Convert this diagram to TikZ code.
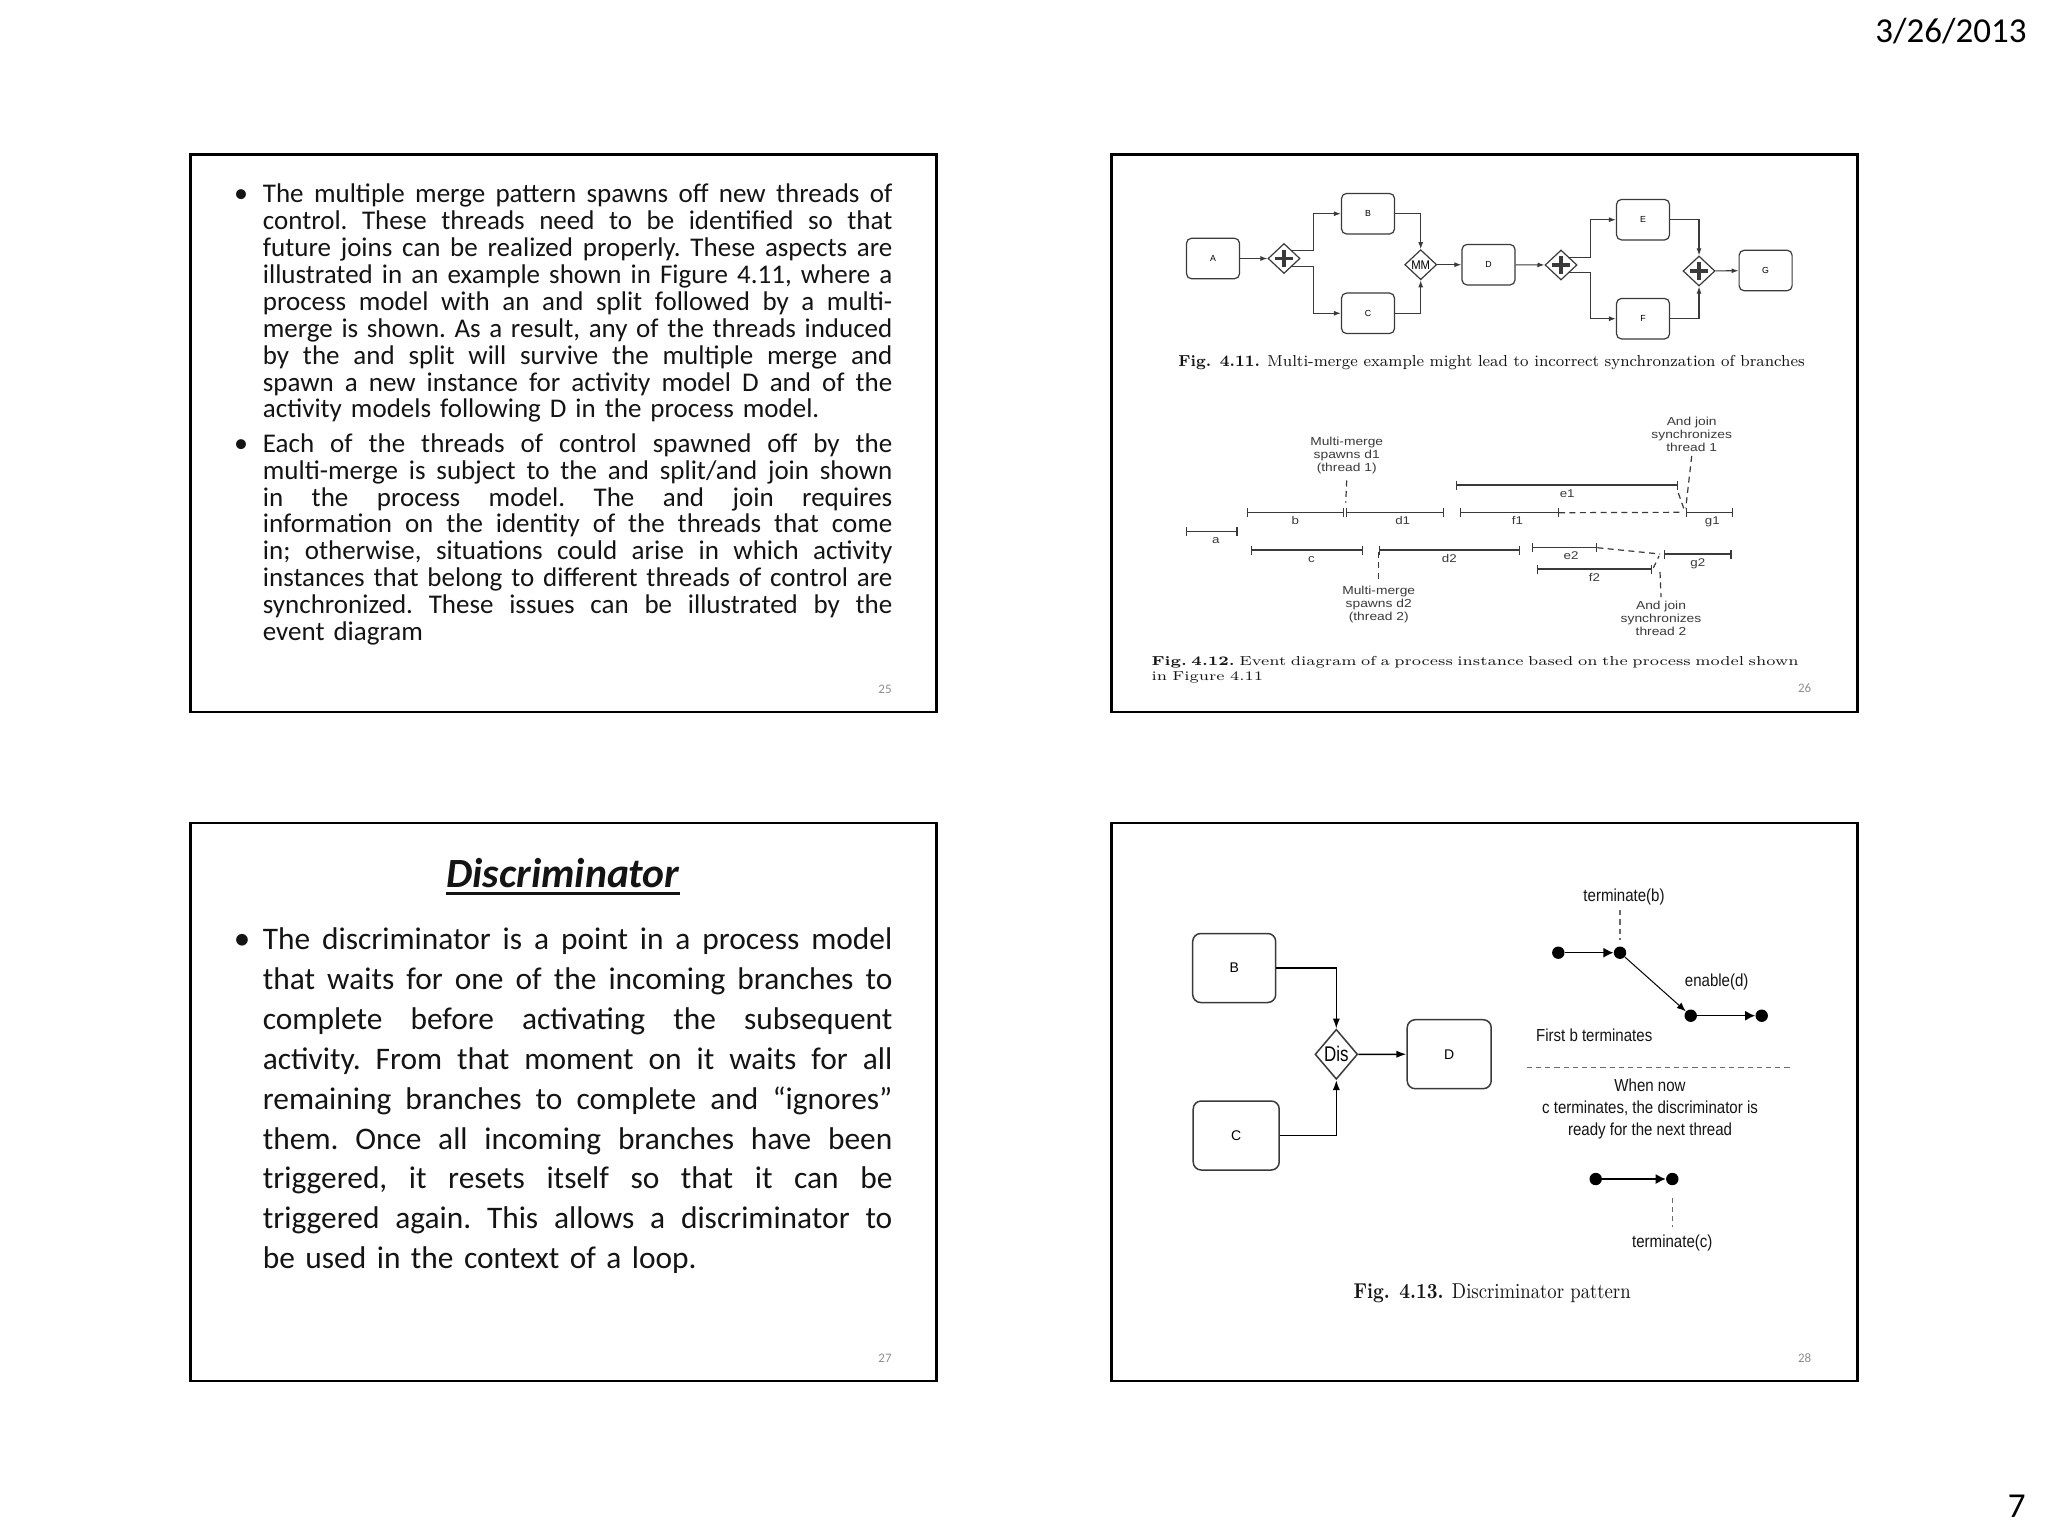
\documentclass[tikz,border=0pt]{standalone}
\usepackage{fontspec}
\usepackage{tikz}
\usetikzlibrary{arrows.meta,positioning,shapes.geometric}
\newfontfamily\slidefont{Carlito}
\newfontfamily\figfont{Liberation Sans}
\definecolor{ink}{HTML}{141414}
\definecolor{figline}{HTML}{3A3A3A}
\definecolor{pagegray}{HTML}{8E8E8E}
\definecolor{dashgray}{HTML}{6A6A6A}
% one justified line of a slide paragraph
\newcommand{\jl}[1]{{\frenchspacing\spaceskip=\fontdimen2\font plus 1fil minus \fontdimen4\font
  \makebox[\hsize][s]{#1}}\\}
\newcommand{\slidelines}{\frenchspacing\lineskiplimit=-\maxdimen\lineskip=0pt\relax}
\tikzset{
  >={Latex[length=3.5pt,width=2.5pt]},
  slideframe/.style={draw=black,line width=1.4pt},
  pagetext/.style={inner sep=0pt,font=\slidefont\fontsize{17.5}{21}\selectfont},
  slidenum/.style={inner sep=0pt,anchor=base east,text=pagegray,font=\slidefont\fontsize{6.5}{8}\selectfont},
  bulletmark/.style={inner sep=0pt,anchor=base,text=ink},
  bodytext/.style={inner sep=0pt,anchor=base west,text width=314.75pt,align=left,text=ink},
  bodysmall/.style={bodytext,font=\slidefont\fontsize{13.5}{13.45}\selectfont\slidelines},
  bodylarge/.style={bodytext,font=\slidefont\fontsize{15.7}{19.95}\selectfont\slidelines},
  titletext/.style={inner sep=0pt,anchor=base,text=ink,font=\slidefont\bfseries\itshape\fontsize{20.8}{24}\selectfont},
  % process model of fig 4.11
  act/.style={draw=figline,line width=0.6pt,rounded corners=2.5pt,minimum width=26.5pt,minimum height=20.25pt,
              inner sep=0pt,font=\figfont\fontsize{4.4}{5}\selectfont},
  gate/.style={diamond,draw=figline,line width=0.6pt,minimum width=16pt,minimum height=15pt,inner sep=0pt},
  andgate/.style={gate,path picture={
      \draw[line width=1.7pt] ([xshift=-4.6pt]path picture bounding box.center) -- ([xshift=4.6pt]path picture bounding box.center)
                              ([yshift=-4.3pt]path picture bounding box.center) -- ([yshift=4.3pt]path picture bounding box.center);}},
  gatelbl/.style={inner sep=0pt,xscale=0.9,font=\figfont\fontsize{6.3}{7}\selectfont},
  flow/.style={->,line width=0.55pt,draw=figline},
  figcap/.style={inner sep=0pt,anchor=base west,text=ink},
  % event diagram of fig 4.12
  span/.style={arrows={Bar[width=4.5pt]-Bar[width=4.5pt]},line width=0.65pt,draw=figline},
  spandash/.style={dash pattern=on 3pt off 2.2pt,line width=0.6pt,draw=figline},
  spanlbl/.style={anchor=base,yshift=-6pt,inner sep=0pt,xscale=1.19,text=figline,font=\figfont\fontsize{5.6}{6.5}\selectfont},
  evnote/.style={align=center,inner sep=0pt,xscale=1.19,text=figline,font=\figfont\fontsize{5.8}{6.5}\selectfont},
  % discriminator of fig 4.13
  task/.style={draw=figline,line width=0.75pt,rounded corners=4pt,minimum width=41.5pt,minimum height=34.5pt,
               inner sep=0pt,font=\figfont\fontsize{7}{8}\selectfont},
  disc/.style={diamond,draw=figline,line width=0.75pt,minimum width=21.3pt,minimum height=25pt,inner sep=0pt},
  dflow/.style={-{Latex[length=5pt,width=3.6pt]},line width=0.75pt,draw=black},
  evdot/.style={circle,fill=black,minimum size=6.2pt,inner sep=0pt},
  tflow/.style={-{Latex[length=5pt,width=5pt]},line width=0.7pt,draw=black},
  tdash/.style={dash pattern=on 2.6pt off 2pt,line width=0.6pt,draw=dashgray},
  tlbl/.style={inner sep=0pt,xscale=0.865,text=ink,font=\figfont\fontsize{8.7}{10}\selectfont},
  tpara/.style={align=center,inner sep=0pt,xscale=0.865,text=ink,font=\figfont\fontsize{8.7}{11}\selectfont}
}
\begin{document}
\begin{tikzpicture}[x=0.5pt,y=-0.5pt]
  \useasboundingbox (0,0) rectangle (2048,1536);
  \fill[white] (0,0) rectangle (2048,1536);
  \node[pagetext,anchor=base east] (date) at (2027,42.7) {3/26/2013};
  \node[pagetext,anchor=base east] (pageno) at (2026,1517) {7};

  % slide 25
  \draw[slideframe] (190.5,154.5) rectangle (936.5,712);
  \node[bulletmark,font=\slidefont\fontsize{14}{13.45}\selectfont] (dot25a) at (241,202.7) {\textbullet};
  \node[bodysmall] (txt25a) at (262.5,202.7) {%
    \jl{The multiple merge pattern spawns off new threads of}%
    \jl{control. These threads need to be identified so that}%
    \jl{future joins can be realized properly. These aspects are}%
    \jl{illustrated in an example shown in Figure 4.11, where a}%
    \jl{process model with an and split followed by a multi-}%
    \jl{merge is shown. As a result, any of the threads induced}%
    \jl{by the and split will survive the multiple merge and}%
    \jl{spawn a new instance for activity model D and of the}%
    activity models following D in the process model.};
  \node[bulletmark,font=\slidefont\fontsize{14}{13.45}\selectfont] (dot25b) at (241,452.2) {\textbullet};
  \node[bodysmall] (txt25b) at (262.5,452.2) {%
    \jl{Each of the threads of control spawned off by the}%
    \jl{multi-merge is subject to the and split/and join shown}%
    \jl{in the process model. The and join requires}%
    \jl{information on the identity of the threads that come}%
    \jl{in; otherwise, situations could arise in which activity}%
    \jl{instances that belong to different threads of control are}%
    \jl{synchronized. These issues can be illustrated by the}%
    event diagram};
  \node[slidenum] (n25) at (892,693) {25};

  % slide 26
  \draw[slideframe] (1111.5,154.5) rectangle (1857.5,712);
  \node[act] (A) at (1213,258.5) {A};
  \node[andgate] (g1) at (1284,258.5) {};
  \node[act] (B) at (1368,213.7) {B};
  \node[act] (C) at (1368,313.3) {C};
  \node[gate,label={[gatelbl]center:MM}] (mm) at (1420.7,264.7) {};
  \node[act] (D) at (1488.5,264.7) {D};
  \node[andgate] (g2) at (1561,265) {};
  \node[act] (E) at (1643,219.7) {E};
  \node[act] (F) at (1643,318.7) {F};
  \node[andgate] (g3) at (1699,271) {};
  \node[act] (G) at (1765.6,270.5) {G};
  \draw[flow] (A) -- (g1);
  \draw[flow] (g1.north east) -- ++(21,0) |- (B);
  \draw[flow] (g1.south east) -- ++(21,0) |- (C);
  \draw[flow] (B) -| (mm);
  \draw[flow] (C) -| (mm);
  \draw[flow] (mm) -- (D);
  \draw[flow] (D) -- (g2);
  \draw[flow] (g2.north east) -- ++(21.5,0) |- (E);
  \draw[flow] (g2.south east) -- ++(21.5,0) |- (F);
  \draw[flow] (E) -| (g3);
  \draw[flow] (F) -| (g3);
  \draw[flow] (g3) -- (G);
  \node[figcap,font=\fontsize{7.95}{10}\selectfont] (cap411) at (1178,366.5)
    {\textbf{Fig. 4.11.} Multi-merge example might lead to incorrect synchronzation of branches};

  % event diagram
  \coordinate (ev-d1) at (1345.7,512.7);
  \coordinate (ev-d2) at (1378.7,550);
  \coordinate (ev-e1) at (1678.3,485);
  \coordinate (ev-f1) at (1559,512.7);
  \coordinate (ev-g1) at (1685.7,512.3);
  \coordinate (ev-e2) at (1597.3,547.7);
  \coordinate (ev-f2) at (1652.3,569);
  \coordinate (ev-g2) at (1664,554);
  \draw[span] (1185.7,531.7) -- node[spanlbl,pos=0.58] {a} (1237.7,531.7);
  \draw[span] (1246.7,512.7) -- node[spanlbl] {b} (1344,512.7);
  \draw[span] (ev-d1) -- node[spanlbl,pos=0.58] {d1} (1444,512.7);
  \draw[span] (1250.7,550) -- node[spanlbl,pos=0.54] {c} (1363.3,550);
  \draw[span] (ev-d2) -- node[spanlbl] {d2} (1520,550);
  \draw[span] (1456,485) -- node[spanlbl] {e1} (ev-e1);
  \draw[span] (1460,512.7) -- node[spanlbl,pos=0.58] {f1} (ev-f1);
  \draw[span] (ev-g1) -- node[spanlbl,pos=0.56] {g1} (1733.3,512.3);
  \draw[span] (1531.7,547.7) -- node[spanlbl,pos=0.6] {e2} (ev-e2);
  \draw[span] (ev-g2) -- node[spanlbl] {g2} (1731.7,554);
  \draw[span] (1536.7,569) -- node[spanlbl] {f2} (ev-f2);
  \node[evnote] (mm1) at (1346.7,455.7) {Multi-merge\\spawns d1\\(thread 1)};
  \node[evnote] (mm2) at (1378.7,604) {Multi-merge\\spawns d2\\(thread 2)};
  \node[evnote] (aj1) at (1691.7,434.3) {And join\\synchronizes\\thread 1};
  \node[evnote] (aj2) at (1661,618.7) {And join\\synchronizes\\thread 2};
  \draw[spandash] ([yshift=-3pt]mm1.south) -- ([yshift=5pt]ev-d1);
  \draw[spandash] ([yshift=-1pt]ev-d2) -- ([yshift=2pt]mm2.north);
  \draw[spandash] (ev-f1) -- ([xshift=-2pt]ev-g1);
  \draw[spandash] ([yshift=-4pt]ev-e1) -- ([xshift=-1pt,yshift=2pt]ev-g1);
  \draw[spandash] ([yshift=-2pt]aj1.south) -- ([yshift=2pt]ev-g1);
  \draw[spandash] (ev-e2) -- ([xshift=-2pt]ev-g2);
  \draw[spandash] ([xshift=0.5pt,yshift=0.5pt]ev-f2) -- ([xshift=-2.5pt,yshift=-1pt]ev-g2);
  \draw[spandash] ([xshift=-2pt,yshift=-9pt]ev-g2) -- ([yshift=2pt]aj2.north);
  \node[figcap,xscale=1.25,text width=258.8pt,align=left,font=\fontsize{6.5}{7.9}\selectfont] (cap412) at (1151,665)
    {\jl{\textbf{Fig. 4.12.} Event diagram of a process instance based on the process model shown}in Figure 4.11};
  \node[slidenum] (n26) at (1811.7,692) {26};

  % slide 27
  \draw[slideframe] (190.5,823) rectangle (936.5,1381);
  \node[titletext] (title27) at (563,887) {Discriminator};
  \draw[line width=1.4pt,draw=ink] ([yshift=-3.2pt]title27.base west) -- ([yshift=-3.2pt]title27.base east);
  \node[bulletmark,font=\slidefont\fontsize{16.5}{19.95}\selectfont] (dot27) at (242,949.5) {\textbullet};
  \node[bodylarge] (txt27) at (262.5,949.5) {%
    \jl{The discriminator is a point in a process model}%
    \jl{that waits for one of the incoming branches to}%
    \jl{complete before activating the subsequent}%
    \jl{activity. From that moment on it waits for all}%
    \jl{remaining branches to complete and “ignores”}%
    \jl{them. Once all incoming branches have been}%
    \jl{triggered, it resets itself so that it can be}%
    \jl{triggered again. This allows a discriminator to}%
    be used in the context of a loop.};
  \node[slidenum] (n27) at (892,1362) {27};

  % slide 28
  \draw[slideframe] (1111.5,823) rectangle (1857.5,1381);
  \node[task] (dB) at (1234.2,968) {B};
  \node[task,minimum width=43pt] (dC) at (1236.2,1135.5) {C};
  \node[disc,label={[inner sep=0pt,xscale=0.8,font=\figfont\fontsize{10.6}{12}\selectfont]center:Dis}] (dis) at (1336.3,1054.3) {};
  \node[task,minimum width=42pt] (dD) at (1449.2,1054.2) {D};
  \draw[dflow] (dB) -| (dis);
  \draw[dflow] (dC) -| (dis);
  \draw[dflow] (dis) -- (dD);
  \node[evdot] (t1) at (1558.3,952.7) {};
  \node[evdot] (t2) at (1620,952.7) {};
  \node[evdot] (t3) at (1690.7,1015.7) {};
  \node[evdot] (t4) at (1761.7,1015.7) {};
  \node[evdot] (t5) at (1595.7,1179) {};
  \node[evdot] (t6) at (1672.3,1179) {};
  \draw[tflow] (t1) -- (t2);
  \draw[tflow,-{Latex[length=4.5pt,width=3.6pt]},line width=0.5pt] (t2) -- (t3);
  \draw[tflow] (t3) -- (t4);
  \draw[tflow] (t5) -- (t6);
  \node[tlbl] (termb) at (1624,896.7) {terminate(b)};
  \draw[tdash] ([yshift=-2.5pt]t2 |- termb.south) -- ([yshift=3pt]t2.north);
  \node[tlbl] (enab) at (1716.7,982.3) {enable(d)};
  \node[tlbl,anchor=west] (firstb) at (1535.7,1035.7) {First b terminates};
  \coordinate (sepl) at (1526.7,1067.7);
  \coordinate (sepr) at (1790,1067.7);
  \draw[tdash] (sepl) -- (sepr);
  \node[tpara] (cnote) at (1650,1109.3) {When now\\c terminates, the discriminator is\\ready for the next thread};
  \node[tlbl] (termc) at (1672.3,1243.3) {terminate(c)};
  \draw[tdash] ([yshift=-6pt]t6.south) -- ([yshift=4pt]termc.north);
  \node[figcap,xscale=0.87,font=\fontsize{10.75}{13}\selectfont] (cap413) at (1353.3,1298.3)
    {\textbf{Fig. 4.13.} Discriminator pattern};
  \node[slidenum] (n28) at (1811.7,1362) {28};
\end{tikzpicture}
\end{document}
